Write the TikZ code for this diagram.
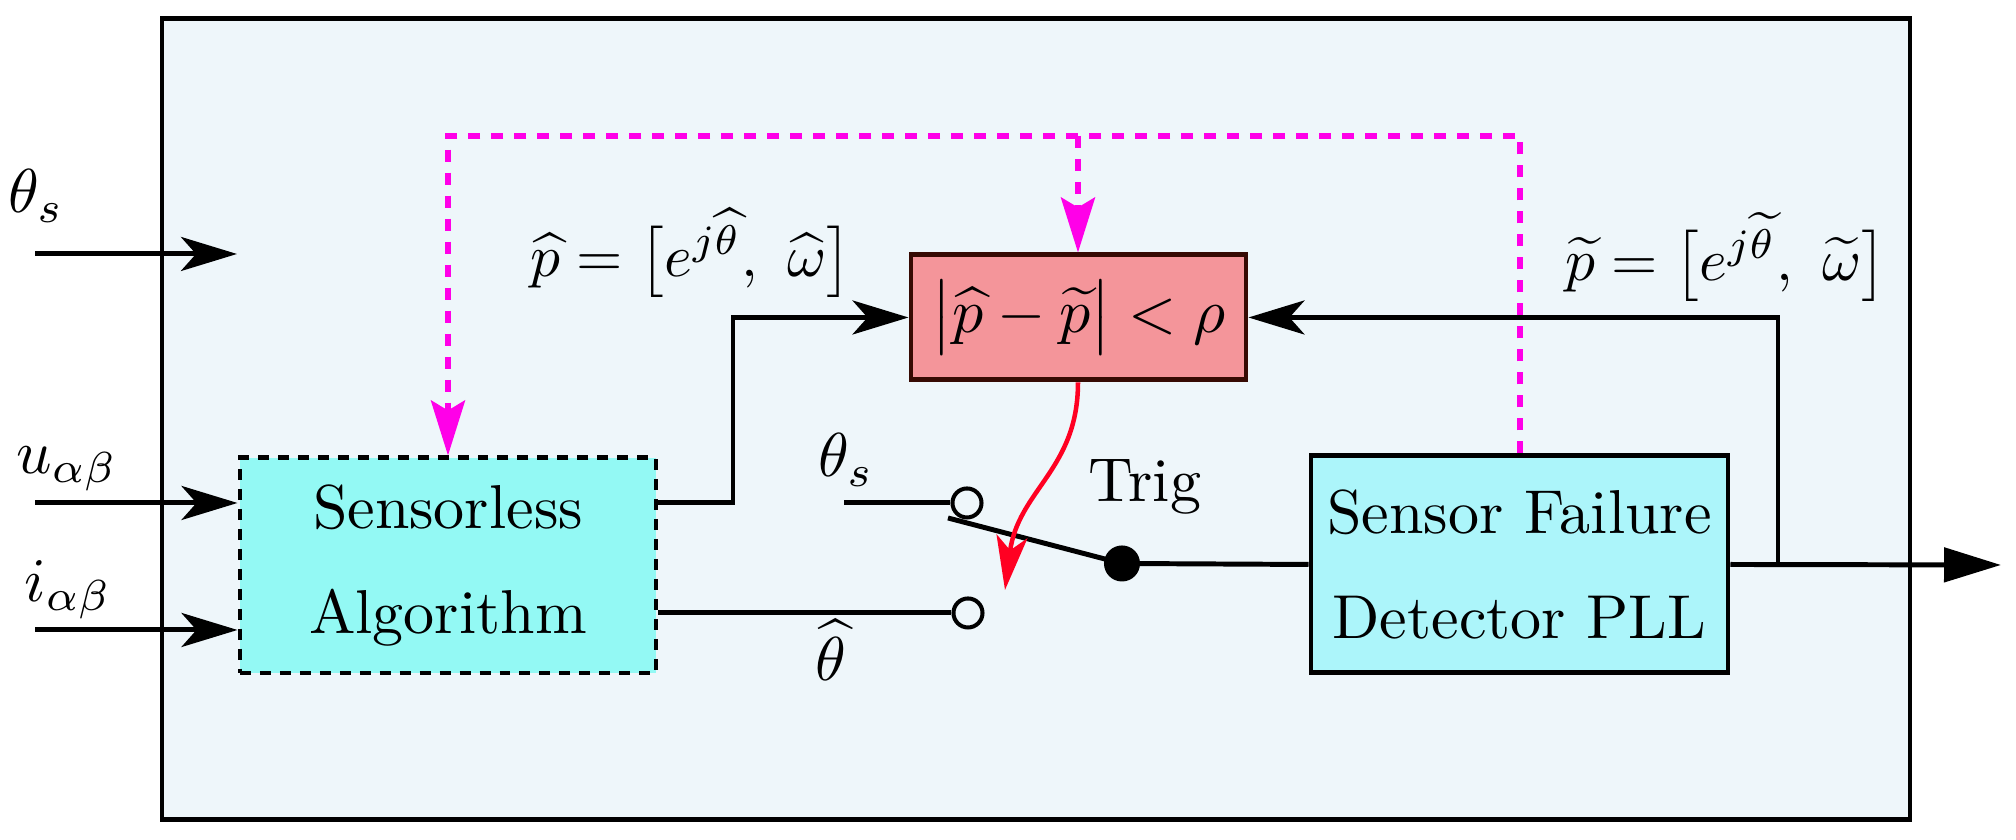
\documentclass[tikz,border=0pt]{standalone}
\usetikzlibrary{arrows.meta,calc}
\definecolor{bgc}{HTML}{EEF6FA}
\definecolor{cyanA}{HTML}{93F9F4}
\definecolor{cyanB}{HTML}{ACF5FA}
\definecolor{redfill}{HTML}{F4959A}
\definecolor{redborder}{HTML}{360A03}
\definecolor{magc}{HTML}{FF00E8}
\definecolor{arrred}{HTML}{FF0022}
\tikzset{
  lw/.style={line width=0.8pt},
  blkarrow/.style={lw,-{Stealth[length=9.03pt,width=5.48pt,inset=2.42pt]}},
  outarrow/.style={lw,-{Triangle[length=9.19pt,width=5.48pt]}},
  magline/.style={magc,line width=0.89pt,dash pattern=on 1.94pt off 1.77pt},
  magarrow/.style={magline,-{Stealth[length=8.87pt,width=5.48pt,inset=1.61pt]}},
  redarrow/.style={arrred,line width=0.73pt,-{Stealth[length=8.71pt,width=5.0pt,inset=2.26pt]}},
  blockA/.style={draw,lw,fill=cyanA,dash pattern=on 1.77pt off 1.45pt,minimum width=67.1pt,minimum height=34.68pt,align=center,inner sep=0pt,font=\fontsize{10}{16.8}\selectfont},
  blockB/.style={draw,lw,fill=cyanB,minimum width=67.26pt,minimum height=35pt,align=center,inner sep=0pt,font=\fontsize{10}{16.8}\selectfont},
  blockR/.style={draw=redborder,lw,fill=redfill,minimum width=54.03pt,minimum height=20.16pt,inner sep=0pt},
  contact/.style={circle,draw,line width=0.65pt,fill=bgc,minimum size=4.68pt,inner sep=0pt},
  pivotdot/.style={circle,fill=black,minimum size=5.81pt,inner sep=0pt},
  lbl/.style={inner sep=0pt},
}
\begin{document}
\begin{tikzpicture}[x=0.16129pt,y=-0.16129pt]
\useasboundingbox (0,0) rectangle (2016,840);
\draw[lw,fill=bgc] (162,19) rectangle (1910,820);

% blocks
\node[blockA] (sa) at (448,565.5) {Sensorless\\Algorithm};
\node[blockB] (sfd) at (1519.5,564.5) {Sensor Failure\\Detector PLL};
\node[blockR] (cmp) at (1078.5,317.5) {$\bigl|\widehat{p}-\widetilde{p}\bigr|<\rho$};

% inputs
\coordinate (thin) at (35,254);
\coordinate (thend) at (237,254);
\coordinate (uin) at (35,503);
\coordinate (iin) at (35,630);
\draw[blkarrow] (thin) -- (thend);
\draw[blkarrow] (uin) -- (uin -| sa.west);
\draw[blkarrow] (iin) -- (iin -| sa.west);
\node[lbl] (lth) at (36,196) {$\theta_s$};
\node[lbl] (lu) at (67,469) {$u_{\alpha\beta}$};
\node[lbl] (li) at (68,590) {$i_{\alpha\beta}$};

% sensorless output to comparator
\coordinate (bend) at (733,503);
\draw[blkarrow] (sa.east |- bend) -- (bend) -- (bend |- cmp.west) -- (cmp.west);
\node[lbl] (lph) at (691,253) {\scalebox{0.96}{$\widehat{p}=\bigl[e^{j\widehat{\theta}},\ \widehat{\omega}\bigr]$}};

% SFD output and feedback
\coordinate (outend) at (2001,565);
\coordinate (br) at (1778,565);
\draw[outarrow] (sfd.east) -- (outend);
\draw[blkarrow] (br) -- (br |- cmp.east) -- (cmp.east);
\node[lbl] (lpt) at (1726,257) {\scalebox{0.96}{$\widetilde{p}=\bigl[e^{j\widetilde{\theta}},\ \widetilde{\omega}\bigr]$}};

% switch
\node[contact] (c1) at (967,503) {};
\node[contact] (c2) at (968,613) {};
\node[pivotdot] (pv) at (1122,563.5) {};
\coordinate (ts) at (844,503);
\coordinate (blade) at (948,518);
\draw[lw] (ts) -- (c1.west);
\draw[lw] (sa.east |- c2) -- (c2.west);
\draw[lw] (blade) -- (pv.center);
\draw[lw] (pv.center) -- (sfd.west);
\node[lbl] (lts) at (846,460) {$\theta_s$};
\node[lbl] (lthh) at (831,650) {$\widehat{\theta}$};
\node[lbl] (trig) at (1145,487) {Trig};

% magenta dashed
\coordinate (mR) at (1520,136);
\coordinate (mL) at (448,136);
\coordinate (mM) at (1078,136);
\draw[magarrow] (sfd.north -| mR) -- (mR) -- (mL) -- (sa.north);
\draw[magarrow] (mM) -- (mM |- cmp.north);

% red trigger arrow
\coordinate (rt) at (1005,590);
\draw[redarrow] (cmp.south -| mM) .. controls (1078,470) and (1018,490) .. (rt);
\end{tikzpicture}
\end{document}
